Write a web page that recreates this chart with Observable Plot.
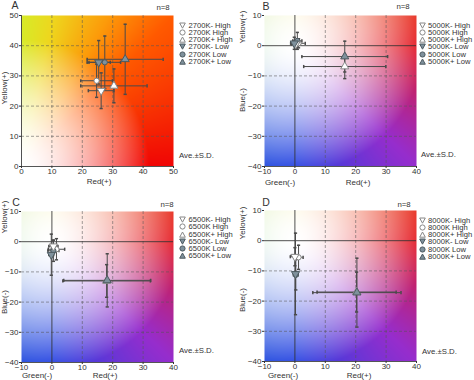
<!DOCTYPE html>
<html><head><meta charset="utf-8">
<script src="https://cdn.jsdelivr.net/npm/d3@7"></script>
<script src="https://cdn.jsdelivr.net/npm/@observablehq/plot@0.6"></script>
<style>
body{margin:0;background:#fff;font-family:"Liberation Sans",Arial,sans-serif;}
#wrap{position:relative;width:474px;height:380px;overflow:hidden;background:#fff;}
.panel{position:absolute;}
.t{position:absolute;white-space:nowrap;color:#333;font-size:8px;line-height:1;}
.lg{position:absolute;font-size:7.6px;line-height:7.25px;color:#333;white-space:nowrap;}
.lg div{height:7.25px;display:flex;align-items:center;}
.lg span{line-height:7.25px;color:#333;}
.lg svg{margin-right:2.5px;flex:none;}
</style></head><body><div id="wrap"></div><script>
// ---- data ----
const temps = ["2700", "5000", "6500", "8000"];
const suffixes = ["- High", " High", "+ High", "- Low", " Low", "+ Low"];
const shapes = ["down", "circle", "up", "down", "circle", "up"];
const isLow = [false, false, false, true, true, true];

// Panel A: Red(+) vs Yellow(+)
const xA = [26.2, 24.7, 30.4, 25.4, 27.4, 34.1];
const yA = [25.1, 28.4, 26.7, 34.5, 34.5, 35.5];
const sdxA = [4.2, 5.2, 10.9, 3.8, 5.2, 12.5];
const sdyA = [5.9, 5.5, 5.6, 7.2, 8.7, 11.6];
// Panel B
const xB = [0.3, 1.2, 16.4, -0.2, 0.8, 16.4];
const yB = [0.5, 0.8, -6.9, 0.8, 1.6, -3.6];
const sdxB = [1.5, 2.2, 13.5, 1.2, 1.5, 14.1];
const sdyB = [1.5, 1.5, 4.0, 2.0, 2.8, 5.1];
// Panel C
const xC = [0.5, 1.5, 18.0, -0.2, 0.5, 18.2];
const yC = [-1.5, -2.5, -13.0, -4.3, -3.0, -12.8];
const sdxC = [1.5, 2.7, 14.4, 0.8, 1.8, 14.3];
const sdyC = [2.0, 3.5, 5.4, 6.8, 3.5, 8.8];
// Panel D
const xD = [0.0, 1.2, 20.3, 0.2, 0.3, 20.4];
const yD = [-5.3, -5.5, -17.0, -11.0, -11.3, -17.2];
const sdxD = [1.5, 1.5, 13.0, 0.5, 0.8, 14.5];
const sdyD = [3.0, 4.0, 6.6, 13.5, 5.0, 11.4];

const ticksA = [0, 10, 20, 30, 40, 50];
const ticksX = [-10, 0, 10, 20, 30, 40];
const ticksY = [-40, -30, -20, -10, 0, 10];

// ---- background colour functions ----
function lerp(a, b, t) { return [0,1,2].map(i => a[i] + (b[i] - a[i]) * t); }
function stopColor(stops, v) {
  for (let i = 0; i < stops.length - 1; i++) {
    const [a, ca] = stops[i], [b, cb] = stops[i + 1];
    if (v >= a && v <= b) return lerp(ca, cb, (v - a) / (b - a));
  }
  return v < stops[0][0] ? stops[0][1] : stops[stops.length - 1][1];
}
const stopsA = [[0,[240,5,5]],[45,[255,90,0]],[60,[252,155,10]],[78,[238,215,30]],[90,[215,235,40]]];
const stopsB = [[-180,[100,200,100]],[-120,[40,90,220]],[-90,[35,65,225]],[-45,[150,45,205]],[0,[228,25,35]],[45,[240,110,40]],[90,[240,225,60]],[180,[100,200,100]]];
function colorOf(stops, x, y) {
  const r = Math.hypot(x, y);
  const th = Math.atan2(y, x) * 180 / Math.PI;
  const s = Math.pow(Math.min(1, r / 42), 1.7);
  const c = lerp([255,255,255], stopColor(stops, th), s);
  return `rgb(${c.map(Math.round).join(",")})`;
}

// ---- symbols ----
const capV = {draw(ctx, size) { const r = Math.sqrt(size / Math.PI); ctx.moveTo(0, -r); ctx.lineTo(0, r); }};
const capH = {draw(ctx, size) { const r = Math.sqrt(size / Math.PI); ctx.moveTo(-r, 0); ctx.lineTo(r, 0); }};

function rows(xs, ys, sx, sy) {
  return xs.map((x, i) => ({x, y: ys[i], sx: sx[i], sy: sy[i], shape: shapes[i], low: isLow[i]}));
}

function panel(cfg) {
  const data = rows(cfg.x, cfg.y, cfg.sdx, cfg.sdy);
  const [x0, x1] = cfg.xd, [y0, y1] = cfg.yd;
  const gridX = cfg.xt.filter(v => v !== 0 && v !== x0 && v !== x1);
  const gridY = cfg.yt.filter(v => v !== 0 && v !== y0 && v !== y1);
  const err = "#4a4a4a";
  const fillOf = d => d.low ? "#7f919c" : "#fff";
  const strokeOf = d => d.low ? "#4d5a60" : "#888";
  const marks = [
    Plot.raster({x1: x0, x2: x1, y1: y0, y2: y1, fill: (x, y) => colorOf(cfg.stops, x, y), pixelSize: 1}),
    Plot.ruleX(gridX, {stroke: "#555", strokeOpacity: 0.55, strokeDasharray: "3,2"}),
    Plot.ruleY(gridY, {stroke: "#555", strokeOpacity: 0.55, strokeDasharray: "3,2"}),
    Plot.ruleX([0], {stroke: "#333", strokeOpacity: 0.85}),
    Plot.ruleY([0], {stroke: "#333", strokeOpacity: 0.85}),
    Plot.ruleY([y0], {stroke: "#555"}),
    Plot.axisX(cfg.xt, {tickSize: 2, tickPadding: 0, label: null, fontSize: 8}),
    Plot.axisY(cfg.yt, {tickSize: 2, tickPadding: 1, label: null, fontSize: 8}),
    Plot.ruleY(data, {y: "y", x1: d => d.x - d.sx, x2: d => d.x + d.sx, stroke: err, strokeWidth: 1}),
    Plot.ruleX(data, {x: "x", y1: d => d.y - d.sy, y2: d => d.y + d.sy, stroke: err, strokeWidth: 1}),
    Plot.dot(data, {x: d => d.x - d.sx, y: "y", symbol: capV, r: 1.6, stroke: err}),
    Plot.dot(data, {x: d => d.x + d.sx, y: "y", symbol: capV, r: 1.6, stroke: err}),
    Plot.dot(data, {x: "x", y: d => d.y - d.sy, symbol: capH, r: 1.6, stroke: err}),
    Plot.dot(data, {x: "x", y: d => d.y + d.sy, symbol: capH, r: 1.6, stroke: err}),
    Plot.dot(data.filter(d => d.shape === "circle"), {x: "x", y: "y", r: 2.6, symbol: "circle", fill: fillOf, stroke: strokeOf, strokeWidth: 1}),
    Plot.dot(data.filter(d => d.shape === "up"), {x: "x", y: "y", r: 3, symbol: "triangle", fill: fillOf, stroke: strokeOf, strokeWidth: 1}),
    Plot.dot(data.filter(d => d.shape === "down"), {x: "x", y: "y", r: 3, symbol: "triangle", rotate: 180, fill: fillOf, stroke: strokeOf, strokeWidth: 1})
  ];
  return Plot.plot({
    width: 237, height: 190,
    marginLeft: cfg.m[0], marginRight: cfg.m[1], marginTop: cfg.m[2], marginBottom: cfg.m[3],
    x: {domain: cfg.xd, label: null},
    y: {domain: cfg.yd, label: null},
    color: {type: "identity"},
    style: {background: "transparent", color: "#333", fontFamily: "Liberation Sans, Arial, sans-serif", fontSize: "8px", overflow: "visible"},
    marks
  });
}

const wrap = document.getElementById("wrap");
function addText(txt, x, y, opts = {}) {
  const s = document.createElement("span");
  s.className = "t";
  s.textContent = txt;
  s.style.left = x + "px"; s.style.top = y + "px";
  let tr = "translate(-50%,-50%)";
  if (opts.rot) tr += " rotate(-90deg)";
  if (opts.anchor === "start") tr = "translate(0,-50%)";
  s.style.transform = tr;
  if (opts.size) s.style.fontSize = opts.size + "px";
  wrap.appendChild(s);
}
function symbolSvg(shape, low) {
  const fill = low ? "#7f919c" : "#fff", stroke = low ? "#4d5a60" : "#888";
  let inner;
  if (shape === "circle") inner = `<circle cx="3.5" cy="3.5" r="2.6" fill="${fill}" stroke="${stroke}"/>`;
  else if (shape === "up") inner = `<polygon points="0.7,6.2 6.3,6.2 3.5,1" fill="${fill}" stroke="${stroke}"/>`;
  else inner = `<polygon points="0.7,1 6.3,1 3.5,6.2" fill="${fill}" stroke="${stroke}"/>`;
  return `<svg width="7" height="7" viewBox="0 0 7 7">${inner}</svg>`;
}
function addLegend(temp, x, y) {
  const d = document.createElement("div");
  d.className = "lg";
  d.style.left = x + "px"; d.style.top = y + "px";
  d.innerHTML = suffixes.map((s, i) => `<div>${symbolSvg(shapes[i], isLow[i])}<span>${temp}K${s}</span></div>`).join("");
  wrap.appendChild(d);
}

const panels = [
  {id: "A", left: 0, top: 0, m: [21, 64, 15, 24], xd: [0, 50], yd: [0, 50], xt: ticksA, yt: ticksA, stops: stopsA, x: xA, y: yA, sdx: sdxA, sdy: sdyA},
  {id: "B", left: 237, top: 0, m: [27, 58, 15, 24], xd: [-10, 40], yd: [-40, 10], xt: ticksX, yt: ticksY, stops: stopsB, x: xB, y: yB, sdx: sdxB, sdy: sdyB},
  {id: "C", left: 0, top: 190, m: [21, 64, 21, 18], xd: [-10, 40], yd: [-40, 10], xt: ticksX, yt: ticksY, stops: stopsB, x: xC, y: yC, sdx: sdxC, sdy: sdyC},
  {id: "D", left: 237, top: 190, m: [27, 58, 20, 19], xd: [-10, 40], yd: [-40, 10], xt: ticksX, yt: ticksY, stops: stopsB, x: xD, y: yD, sdx: sdxD, sdy: sdyD}
];
panels.forEach(cfg => {
  const div = document.createElement("div");
  div.className = "panel";
  div.style.left = cfg.left + "px"; div.style.top = cfg.top + "px";
  div.appendChild(panel(cfg));
  wrap.appendChild(div);
});

// Panel letters, n, Ave.±S.D.
addText("A", 15, 5, {size: 10.5});
addText("B", 266, 6, {size: 10.5});
addText("C", 16, 202, {size: 10.5});
addText("D", 266, 202, {size: 10.5});
addText("n=8", 163, 8, {size: 7.8});
addText("n=8", 403, 7, {size: 7.8});
addText("n=8", 167, 205, {size: 7.8});
addText("n=8", 404, 205, {size: 7.8});
addText("Ave.±S.D.", 179, 156, {anchor: "start", size: 7.8});
addText("Ave.±S.D.", 421, 155, {anchor: "start", size: 7.8});
addText("Ave.±S.D.", 179, 351, {anchor: "start", size: 7.8});
addText("Ave.±S.D.", 422, 352, {anchor: "start", size: 7.8});
// axis labels
addText("Red(+)", 99, 182);
addText("Yellow(+)", 5, 88, {rot: true});
addText("Green(-)", 280, 183);
addText("Red(+)", 358, 183);
addText("Yellow(+)", 243, 27, {rot: true});
addText("Blue(-)", 243, 100, {rot: true});
addText("Green(-)", 37, 376);
addText("Red(+)", 105, 376);
addText("Yellow(+)", 5, 217, {rot: true});
addText("Blue(-)", 5, 302, {rot: true});
addText("Green(-)", 283, 375.5);
addText("Red(+)", 359, 375.5);
addText("Yellow(+)", 243, 223, {rot: true});
addText("Blue(-)", 243, 300, {rot: true});
// legends
addLegend(temps[0], 179, 21.5);
addLegend(temps[1], 418.5, 21.5);
addLegend(temps[2], 179, 216);
addLegend(temps[3], 418.5, 216.5);
</script></body></html>
